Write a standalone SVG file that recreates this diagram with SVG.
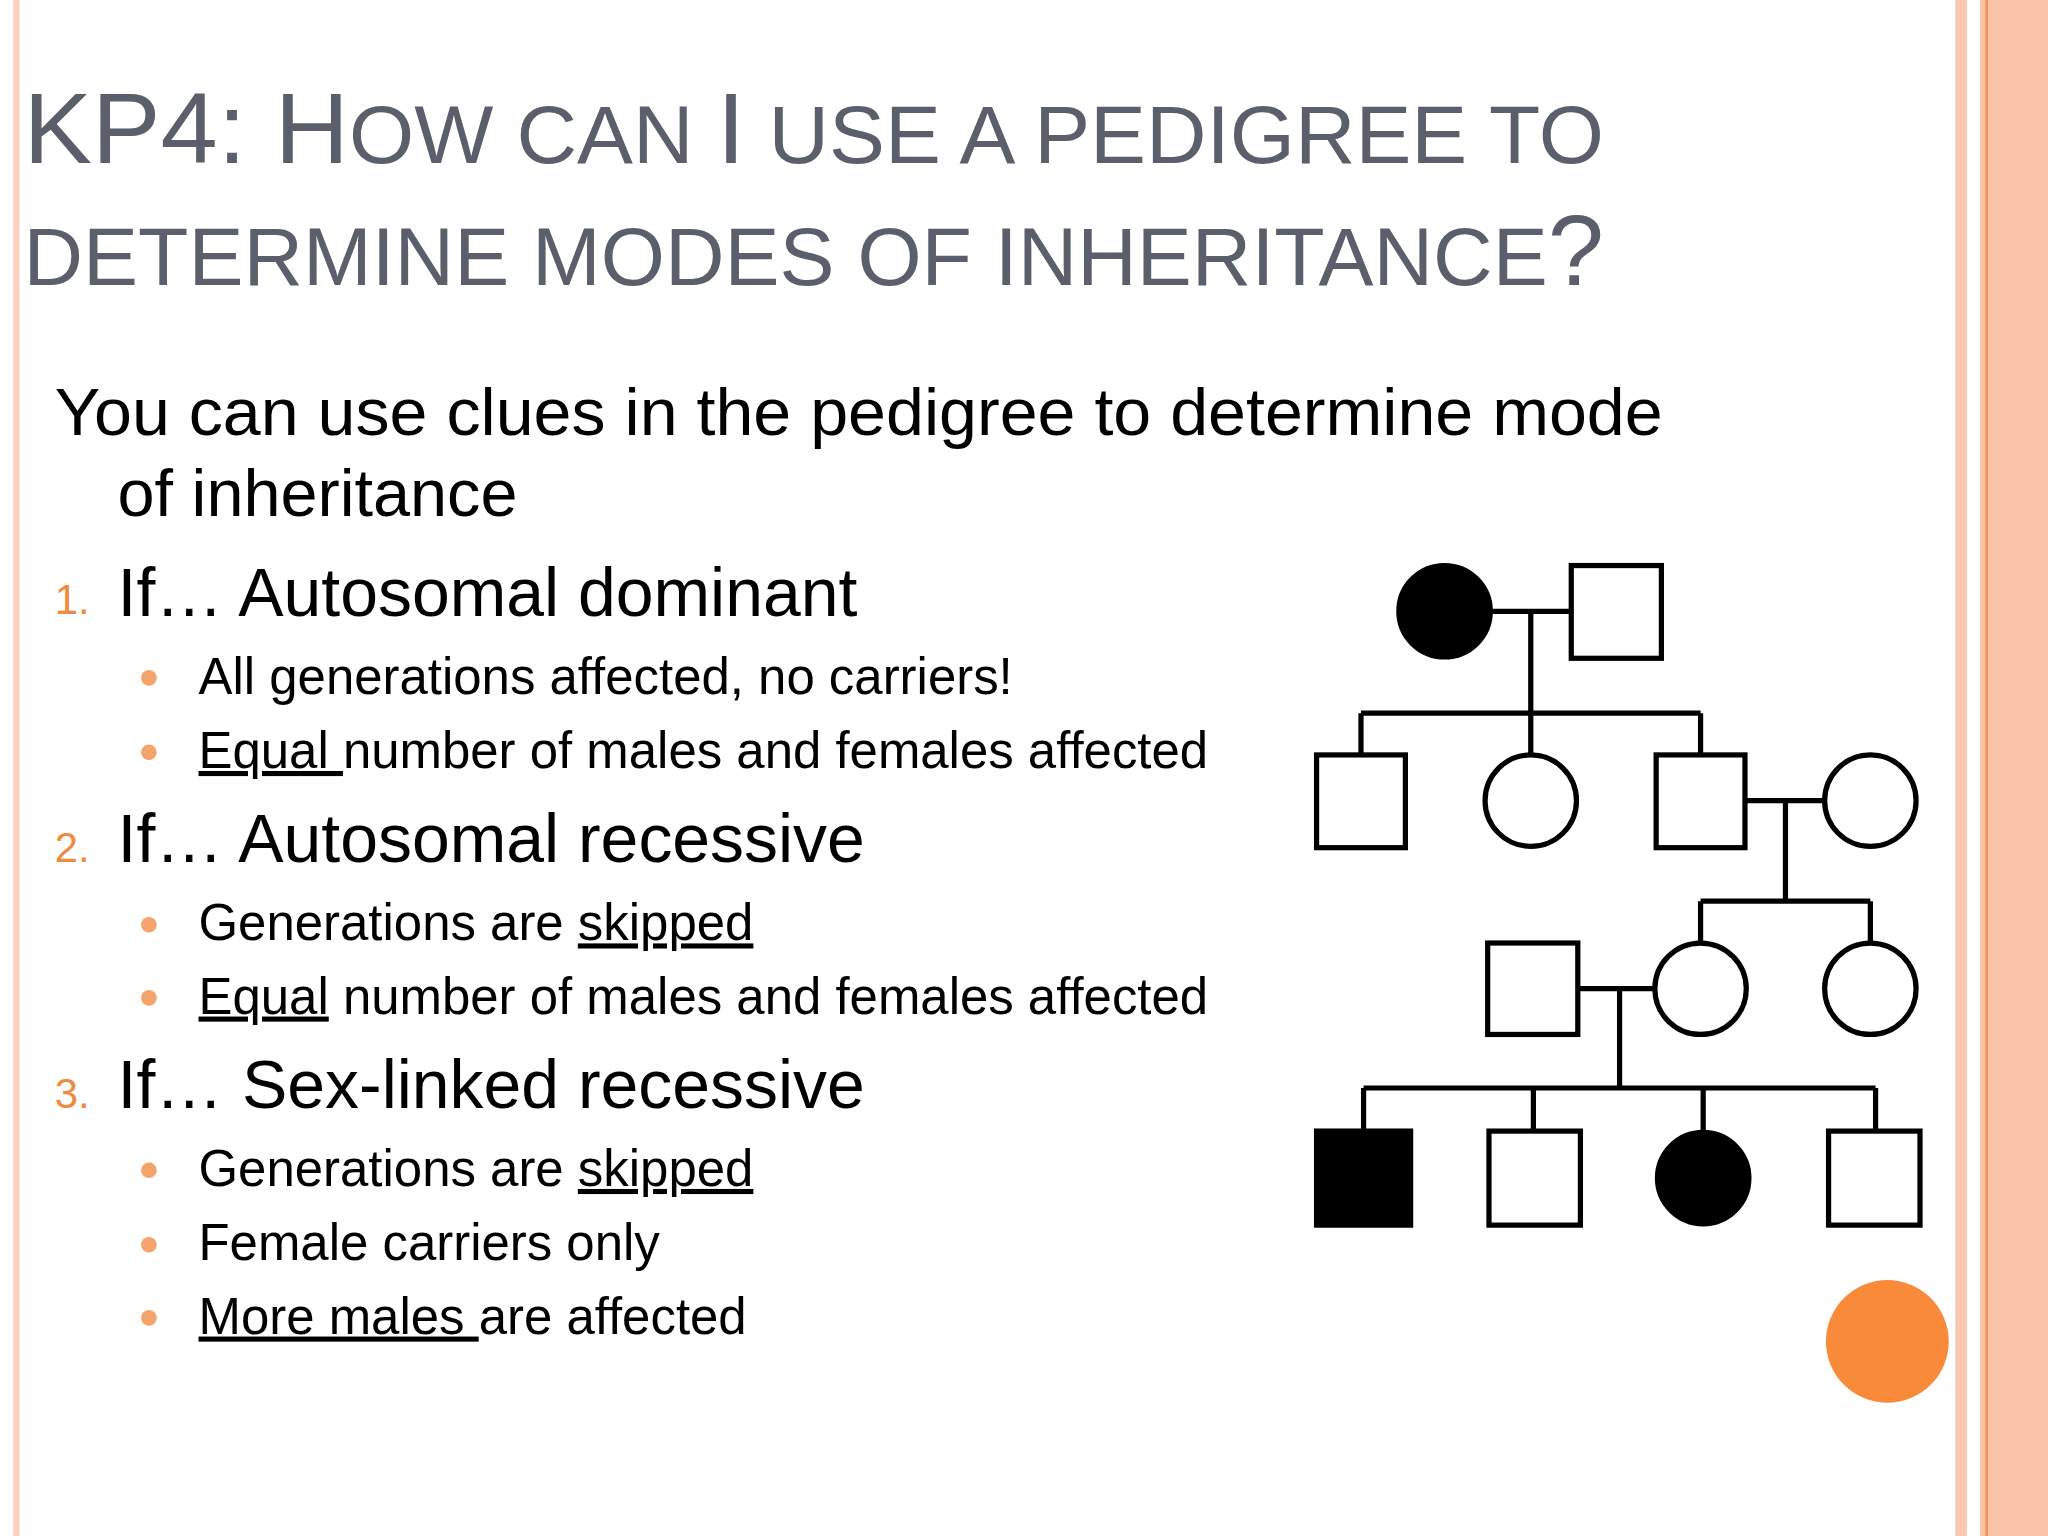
<svg xmlns="http://www.w3.org/2000/svg" width="2048" height="1536" viewBox="0 0 2048 1536">
<style>
.t{font-family:"Liberation Sans",Arial,sans-serif;fill:#5a5f6b}
.b{font-family:"Liberation Sans",Arial,sans-serif;fill:#000}
.n{font-family:"Liberation Sans",Arial,sans-serif;fill:#F08A40;font-size:32px}
.p{fill:none;stroke:#000;stroke-width:4}
.f{fill:#000;stroke:#000;stroke-width:4}
.l{stroke:#000;stroke-width:4;fill:none}
.d{fill:#F4A46A}
</style>
<rect width="2048" height="1536" fill="#fff"/>
<g transform="scale(1.30612)">
<g id="borders">
<rect x="10" y="0" width="5" height="1176" fill="#FAD3C0"/>
<rect x="1497" y="0" width="9" height="1176" fill="#FBC9B0"/>
<rect x="1516" y="0" width="52" height="1176" fill="#FBC4A8"/>
<rect x="1520" y="0" width="2" height="1176" fill="#F2935C"/>
</g>
<g id="title" class="t">
<text x="18" y="125" textLength="1210" lengthAdjust="spacingAndGlyphs"><tspan font-size="76">KP4: H</tspan><tspan font-size="62">OW CAN </tspan><tspan font-size="76">I</tspan><tspan font-size="62"> USE A PEDIGREE TO</tspan></text>
<text x="18" y="218" textLength="1210" lengthAdjust="spacingAndGlyphs"><tspan font-size="62">DETERMINE MODES OF INHERITANCE</tspan><tspan font-size="76">?</tspan></text>
</g>
<g id="body">
<text class="b" x="42" y="333" font-size="51" textLength="1231" lengthAdjust="spacingAndGlyphs">You can use clues in the pedigree to determine mode</text>
<text class="b" x="90" y="395" font-size="51">of inheritance</text>
<text class="n" x="42" y="470">1.</text>
<text class="b" x="90" y="472" font-size="52">If… Autosomal dominant</text>
<circle class="d" cx="114" cy="519" r="6"/>
<text class="b" x="152" y="531" font-size="39">All generations affected, no carriers!</text>
<circle class="d" cx="114" cy="576" r="6"/>
<text class="b" x="152" y="588" font-size="39"><tspan text-decoration="underline">Equal </tspan>number of males and females affected</text>
<text class="n" x="42" y="660">2.</text>
<text class="b" x="90" y="660" font-size="52">If… Autosomal recessive</text>
<circle class="d" cx="114" cy="708" r="6"/>
<text class="b" x="152" y="720" font-size="39">Generations are <tspan text-decoration="underline">skipped</tspan></text>
<circle class="d" cx="114" cy="764" r="6"/>
<text class="b" x="152" y="776" font-size="39"><tspan text-decoration="underline">Equal</tspan> number of males and females affected</text>
<text class="n" x="42" y="848">3.</text>
<text class="b" x="90" y="848" font-size="52">If… Sex-linked recessive</text>
<circle class="d" cx="114" cy="896" r="6"/>
<text class="b" x="152" y="908" font-size="39">Generations are <tspan text-decoration="underline">skipped</tspan></text>
<circle class="d" cx="114" cy="953" r="6"/>
<text class="b" x="152" y="965" font-size="39">Female carriers only</text>
<circle class="d" cx="114" cy="1009" r="6"/>
<text class="b" x="152" y="1021" font-size="39"><tspan text-decoration="underline">More males </tspan>are affected</text>
</g>
<g id="connectors">
<path class="l" d="M1142 468H1203M1172 468V546M1042 546H1302M1042 546V578M1172 546V578M1302 546V578"/>
<path class="l" d="M1336 613H1397M1367 613V690M1302 690H1432M1302 690V722M1432 690V722"/>
<path class="l" d="M1208 757H1267M1240 757V833M1044 833H1436M1044 833V866M1174 833V866M1304 833V866M1436 833V866"/>
</g>
<g id="g1f"><circle class="f" cx="1106" cy="468" r="35"/></g>
<g id="g1m"><rect class="p" x="1203" y="433" width="69" height="71"/></g>
<g id="g2a"><rect class="p" x="1008" y="578" width="68" height="71"/></g>
<g id="g2b"><circle class="p" cx="1172" cy="613" r="35"/></g>
<g id="g2c"><rect class="p" x="1268" y="578" width="68" height="71"/></g>
<g id="g2d"><circle class="p" cx="1432" cy="613" r="35"/></g>
<g id="g3a"><rect class="p" x="1139" y="722" width="69" height="70"/></g>
<g id="g3b"><circle class="p" cx="1302" cy="757" r="35"/></g>
<g id="g3c"><circle class="p" cx="1432" cy="757" r="35"/></g>
<g id="g4a"><rect class="f" x="1008" y="866" width="72" height="72"/></g>
<g id="g4b"><rect class="p" x="1140" y="866" width="70" height="72"/></g>
<g id="g4c"><circle class="f" cx="1304" cy="902" r="35"/></g>
<g id="g4d"><rect class="p" x="1400" y="866" width="70" height="72"/></g>
<g id="dot"><circle cx="1445" cy="1027" r="47" fill="#F98A3A"/></g>
</g>
</svg>
